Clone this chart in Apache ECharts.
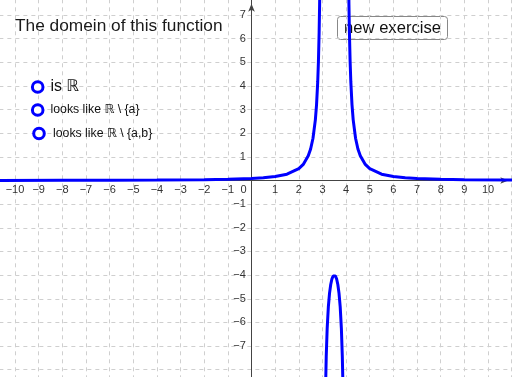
<!DOCTYPE html>
<html>
<head>
<meta charset="utf-8">
<script src="https://cdn.jsdelivr.net/npm/echarts@6/dist/echarts.min.js"></script>
<style>
  html, body { margin: 0; padding: 0; background: #fff; }
  #chart { width: 512px; height: 377px; }
</style>
</head>
<body>
<div id="chart"></div>
<script>
// left branch (x < 3)
const leftX = [-10.7, -8, -6, -4, -2, -1, 0, 0.5, 1, 1.5, 2, 2.2, 2.4, 2.5, 2.6, 2.7, 2.75, 2.8, 2.83, 2.86, 2.88, 2.9];
const leftY = [0.005, 0.0076, 0.0111, 0.0179, 0.0333, 0.05, 0.0833, 0.114, 0.1667, 0.2667, 0.5, 0.694, 1.042, 1.333, 1.786, 2.564, 3.2, 4.167, 5.03, 6.27, 7.44, 9.09];
// middle branch (3 < x < 4)
const midX = [3.1, 3.13, 3.16, 3.2, 3.25, 3.3, 3.35, 3.4, 3.45, 3.5, 3.55, 3.6, 3.65, 3.7, 3.75, 3.8, 3.84, 3.87, 3.9];
const midY = [-11.11, -8.84, -7.44, -6.25, -5.333, -4.762, -4.396, -4.167, -4.04, -4, -4.04, -4.167, -4.396, -4.762, -5.333, -6.25, -7.44, -8.84, -11.11];
// right branch (x > 4)
const rightX = [4.1, 4.12, 4.14, 4.17, 4.2, 4.25, 4.3, 4.4, 4.5, 4.6, 4.8, 5, 5.5, 6, 6.5, 7, 8, 9, 11.1];
const rightY = [9.09, 7.44, 6.27, 5.03, 4.167, 3.2, 2.564, 1.786, 1.333, 1.042, 0.694, 0.5, 0.2667, 0.1667, 0.114, 0.0833, 0.05, 0.0333, 0.0174];

// axis ranges (grid runs past the window edges, like the applet view)
const xRange = [-11, 12];
const yRange = [-9, 8];
// tick labels that are actually shown
const xLabelRange = [-10, 10];
const yLabelRange = [-7, 7];

const titleText = "The domein of this function";
const choices = ["is ℝ", "looks like ℝ \\ {a}", "looks like ℝ \\ {a,b}"];
const buttonText = "new exercise";

const font = "'Liberation Sans', 'DejaVu Sans', sans-serif";

function pairs(xs, ys) {
  return xs.map((x, i) => [x, ys[i]]);
}

function fmtNum(v, range) {
  const n = Math.round(v);
  if (n === 0 || n < range[0] || n > range[1]) return "";
  return n < 0 ? "\u2212" + (-n) : String(n);
}

const chart = echarts.init(document.getElementById("chart"));

const blueLine = {
  type: "line",
  showSymbol: false,
  symbol: "none",
  clip: true,
  lineStyle: { color: "#0000ff", width: 3 },
  z: 5
};

const gridLine = { show: true, lineStyle: { color: "#cfcfcf", type: [4, 4], width: 1 } };

chart.setOption({
  animation: false,
  grid: { left: -8.65, right: -23.3, top: -8.7, bottom: -16.35, containLabel: false, outerBoundsMode: "none" },
  xAxis: {
    type: "value",
    min: xRange[0],
    max: xRange[1],
    interval: 1,
    axisLine: {
      onZero: true,
      lineStyle: { color: "#444", width: 1 },
      symbol: ["none", "arrow"],
      symbolSize: [5, 8],
      symbolOffset: [0, -27]
    },
    axisTick: { show: false },
    axisLabel: {
      color: "#333",
      fontSize: 11,
      fontFamily: font,
      // labels sit on the grid edge in v6, pull them up to the zero line
      margin: -209,
      showMinLabel: false,
      showMaxLabel: false,
      formatter: (v) => (Math.round(v) === 0 ? "{z|0}" : fmtNum(v, xLabelRange)),
      rich: { z: { padding: [0, 16, 0, 0], fontSize: 11, color: "#333", fontFamily: font } }
    },
    splitLine: gridLine
  },
  yAxis: {
    type: "value",
    min: yRange[0],
    max: yRange[1],
    interval: 1,
    axisLine: {
      onZero: true,
      lineStyle: { color: "#444", width: 1 },
      symbol: ["none", "arrow"],
      symbolSize: [5, 8],
      symbolOffset: [0, -12.5]
    },
    axisTick: { show: false },
    axisLabel: {
      color: "#333",
      fontSize: 11,
      fontFamily: font,
      margin: -254.5,
      showMinLabel: false,
      showMaxLabel: false,
      formatter: (v) => fmtNum(v, yLabelRange)
    },
    splitLine: gridLine
  },
  series: [
    Object.assign({}, blueLine, { data: pairs(leftX, leftY) }),
    Object.assign({}, blueLine, { data: pairs(midX, midY) }),
    Object.assign({}, blueLine, { data: pairs(rightX, rightY) })
  ],
  graphic: [
    {
      type: "text", left: 15, top: 18, z: 10,
      style: { text: titleText, font: "17.3px " + font, fill: "#1a1a1a" }
    },
    {
      type: "group", left: 337, top: 16, z: 10,
      children: [
        {
          type: "rect",
          shape: { x: 0, y: 0, width: 110, height: 23, r: 3 },
          style: { fill: "#fff", stroke: "#888", lineWidth: 1 }
        },
        {
          type: "text", x: 55, y: 11.5,
          style: { text: buttonText, font: "16.6px " + font, fill: "#111", align: "center", verticalAlign: "middle" }
        }
      ]
    },
    { type: "circle", shape: { cx: 37.7, cy: 87, r: 5.3 }, style: { fill: "#fff", stroke: "#0000ff", lineWidth: 3 }, z: 10 },
    { type: "circle", shape: { cx: 37.7, cy: 110, r: 5.3 }, style: { fill: "#fff", stroke: "#0000ff", lineWidth: 3 }, z: 10 },
    { type: "circle", shape: { cx: 39, cy: 133.5, r: 5.3 }, style: { fill: "#fff", stroke: "#0000ff", lineWidth: 3 }, z: 10 },
    {
      type: "text", x: 50.5, y: 87, z: 10,
      style: { text: choices[0], font: "16px " + font, fill: "#111", verticalAlign: "middle" }
    },
    {
      type: "text", x: 50.5, y: 110, z: 10,
      style: { text: choices[1], font: "12.3px " + font, fill: "#111", verticalAlign: "middle" }
    },
    {
      type: "text", x: 53, y: 134, z: 10,
      style: { text: choices[2], font: "12.3px " + font, fill: "#111", verticalAlign: "middle" }
    }
  ]
});
</script>
</body>
</html>
